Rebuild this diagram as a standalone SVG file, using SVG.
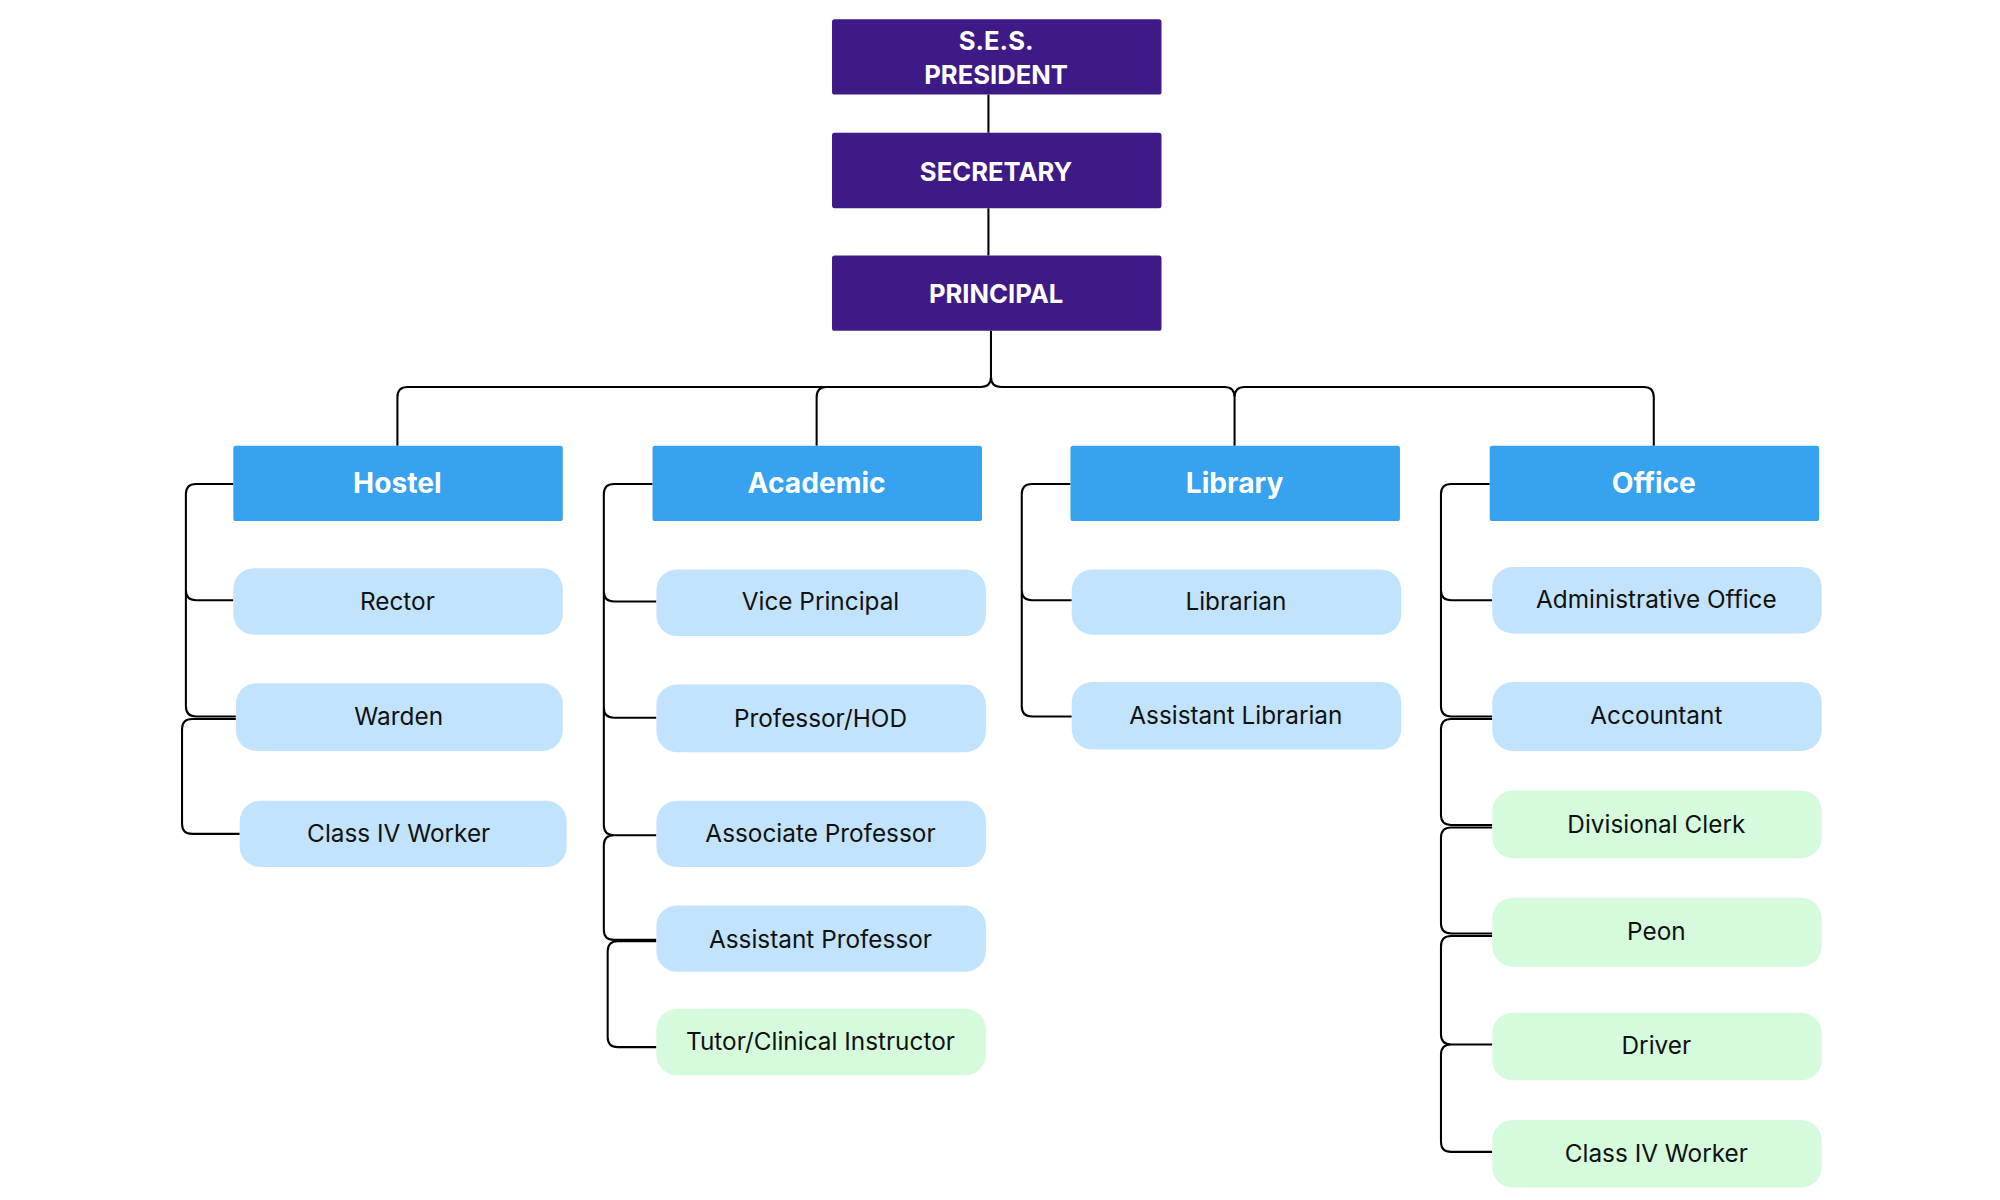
<svg xmlns="http://www.w3.org/2000/svg" width="2000" height="1200" viewBox="0 0 2000 1200">
<style>
.top{fill:#3e1a87}
.dept{fill:#36a2f0}
.blue{fill:#c2e3fd}
.green{fill:#d5fbdc}
text{font-family:Inter,"Open Sans","Liberation Sans",sans-serif;text-anchor:middle;dominant-baseline:central}
.tt{fill:#fff;font-weight:700;font-size:20px}
.dt{fill:#fff;font-weight:700;font-size:22px}
.ct{fill:#111;font-size:19px}
#connectors path{fill:none;stroke:#000;stroke-width:1.6}
</style>
<rect width="2000" height="1200" fill="#fff"/>
<g transform="scale(1.282,1.277)">
<g id="connectors">
<path d="M771 74V104M771 163V200M773 259V295q0 8-8 8H318q-8 0-8 8V349M637 349V311q0-8 8-8M773 295q0 8 8 8H955q8 0 8 8V349M963 311q0-8 8-8H1282q8 0 8 8V349"/>
<path d="M182 379H153q-8 0-8 8V553q0 8 8 8H184M145 462q0 8 8 8H182M184 563H150q-8 0-8 8V645q0 8 8 8H187"/>
<path d="M509 379H479q-8 0-8 8V646q0 8 8 8H512M471 463q0 8 8 8H512M471 554q0 8 8 8H512M512 654H479q-8 0-8 8V728q0 8 8 8H512M512 737H482q-8 0-8 8V812q0 8 8 8H512"/>
<path d="M835 379H805q-8 0-8 8V553q0 8 8 8H836M797 462q0 8 8 8H836"/>
<path d="M1162 379H1132q-8 0-8 8V553q0 8 8 8H1164M1124 462q0 8 8 8H1164M1164 563H1132q-8 0-8 8V638q0 8 8 8H1164M1164 648H1132q-8 0-8 8V723q0 8 8 8H1164M1164 733H1132q-8 0-8 8V810q0 8 8 8H1164M1164 818H1132q-8 0-8 8V894q0 8 8 8H1164"/>
</g>
<g id="president"><rect class="top" x="649" y="15" width="257" height="59" rx="2"/><text class="tt" x="777" y="32">S.E.S.</text><text class="tt" x="777" y="58">PRESIDENT</text></g>
<g id="secretary"><rect class="top" x="649" y="104" width="257" height="59" rx="2"/><text class="tt" x="777" y="134">SECRETARY</text></g>
<g id="principal"><rect class="top" x="649" y="200" width="257" height="59" rx="2"/><text class="tt" x="777" y="230">PRINCIPAL</text></g>
<g id="hostel"><rect class="dept" x="182" y="349" width="257" height="59" rx="2"/><text class="dt" x="310" y="378">Hostel</text></g>
<g id="academic"><rect class="dept" x="509" y="349" width="257" height="59" rx="2"/><text class="dt" x="637" y="378">Academic</text></g>
<g id="library"><rect class="dept" x="835" y="349" width="257" height="59" rx="2"/><text class="dt" x="963" y="378">Library</text></g>
<g id="office"><rect class="dept" x="1162" y="349" width="257" height="59" rx="2"/><text class="dt" x="1290" y="378">Office</text></g>
<g id="rector"><rect class="blue" x="182" y="445" width="257" height="52" rx="16"/><text class="ct" x="310" y="471">Rector</text></g>
<g id="warden"><rect class="blue" x="184" y="535" width="255" height="53" rx="16"/><text class="ct" x="311" y="561">Warden</text></g>
<g id="hostel-class4"><rect class="blue" x="187" y="627" width="255" height="52" rx="16"/><text class="ct" x="311" y="652">Class IV Worker</text></g>
<g id="vice-principal"><rect class="blue" x="512" y="446" width="257" height="52" rx="16"/><text class="ct" x="640" y="471">Vice Principal</text></g>
<g id="professor"><rect class="blue" x="512" y="536" width="257" height="53" rx="16"/><text class="ct" x="640" y="562">Professor/HOD</text></g>
<g id="assoc"><rect class="blue" x="512" y="627" width="257" height="52" rx="16"/><text class="ct" x="640" y="652">Associate Professor</text></g>
<g id="asst"><rect class="blue" x="512" y="709" width="257" height="52" rx="16"/><text class="ct" x="640" y="735">Assistant Professor</text></g>
<g id="tutor"><rect class="green" x="512" y="790" width="257" height="52" rx="16"/><text class="ct" x="640" y="815">Tutor/Clinical Instructor</text></g>
<g id="librarian"><rect class="blue" x="836" y="446" width="257" height="51" rx="16"/><text class="ct" x="964" y="471">Librarian</text></g>
<g id="asst-librarian"><rect class="blue" x="836" y="534" width="257" height="53" rx="16"/><text class="ct" x="964" y="560">Assistant Librarian</text></g>
<g id="admin"><rect class="blue" x="1164" y="444" width="257" height="52" rx="16"/><text class="ct" x="1292" y="469">Administrative Office</text></g>
<g id="accountant"><rect class="blue" x="1164" y="534" width="257" height="54" rx="16"/><text class="ct" x="1292" y="560">Accountant</text></g>
<g id="clerk"><rect class="green" x="1164" y="619" width="257" height="53" rx="16"/><text class="ct" x="1292" y="645">Divisional Clerk</text></g>
<g id="peon"><rect class="green" x="1164" y="703" width="257" height="54" rx="16"/><text class="ct" x="1292" y="729">Peon</text></g>
<g id="driver"><rect class="green" x="1164" y="793" width="257" height="53" rx="16"/><text class="ct" x="1292" y="818">Driver</text></g>
<g id="office-class4"><rect class="green" x="1164" y="877" width="257" height="53" rx="16"/><text class="ct" x="1292" y="903">Class IV Worker</text></g>
</g>
</svg>
